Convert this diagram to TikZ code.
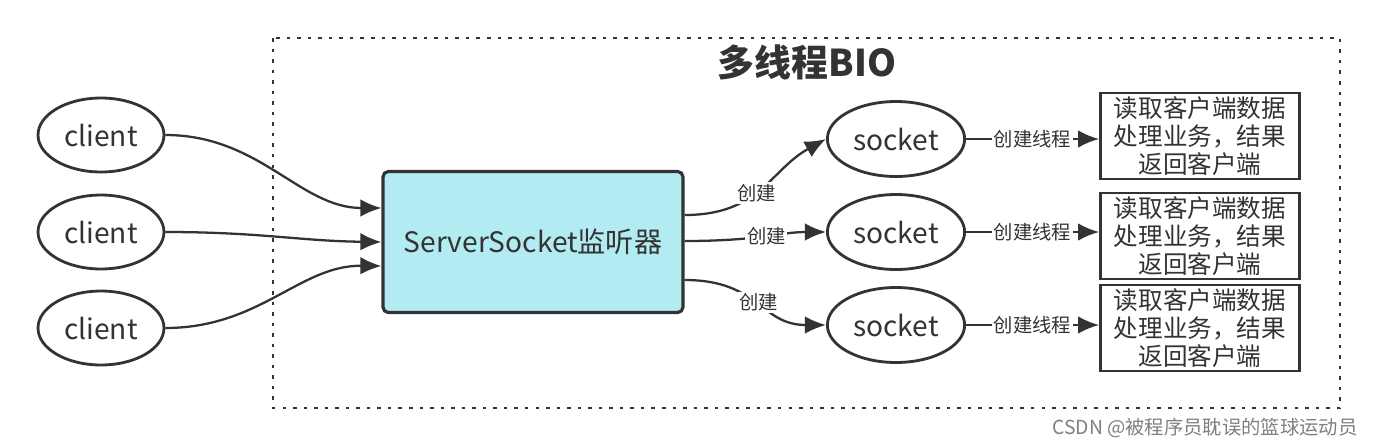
\documentclass[tikz,border=0pt]{standalone}
\usepackage{fontspec}
\setmainfont{Noto Sans CJK SC}
\usetikzlibrary{arrows.meta,shapes.geometric}
\definecolor{ink}{RGB}{51,51,51}
\definecolor{srvfill}{RGB}{178,235,242}
\begin{document}
\begin{tikzpicture}[x=0.02cm,y=-0.02cm,
  res/.style={draw=ink,line width=1.6pt,minimum width=3.98cm,minimum height=1.72cm,align=center,font=\fontsize{14}{16}\selectfont,text=ink,inner sep=1pt},
  arr/.style={draw=ink,line width=1.3pt,-{Latex[length=12pt,width=10pt]}},
  lbl/.style={font=\fontsize{11}{13}\selectfont,text=ink,fill=white,inner sep=1pt}]
\useasboundingbox[fill=white] (0,0) rectangle (1378,447);
\draw[ink,line width=1.6pt,dash pattern=on 2pt off 4pt] (273,38) rectangle (1340,408);
\node[font=\bfseries\fontsize{21}{24}\selectfont,text=ink] (title) at (807,62) {多线程BIO};
\foreach \i/\y in {1/135,2/232,3/328}
  \node[draw=ink,line width=1.6pt,shape=ellipse,minimum width=2.52cm,minimum height=1.48cm,font=\fontsize{16}{18}\selectfont,text=ink] (c\i) at (101,\y) {client};
\node[draw=ink,line width=1.8pt,fill=srvfill,rounded corners=3pt,minimum width=6cm,minimum height=2.82cm,font=\fontsize{16}{18}\selectfont,text=ink] (srv) at (533,242) {ServerSocket监听器};
\foreach \i/\y in {1/139,2/232,3/325}
  \node[draw=ink,line width=1.6pt,shape=ellipse,minimum width=2.6cm,minimum height=1.5cm,font=\fontsize{16}{18}\selectfont,text=ink] (s\i) at (896,\y) {socket};
\foreach \i/\y in {1/136,2/236,3/328}
  \node[res] (r\i) at (1200,\y) {读取客户端数据\\处理业务，结果\\返回客户端};
% client -> server
\draw[arr] (c1.east) .. controls (260,135) and (300,208) .. ([yshift=34*0.02cm]srv.west);
\draw[arr] (c2.east) .. controls (260,232) and (300,241) .. (srv.west);
\draw[arr] (c3.east) .. controls (260,328) and (300,265) .. ([yshift=-24*0.02cm]srv.west);
% server -> sockets
\draw[arr] ([yshift=27*0.02cm]srv.east) .. controls (760,215) and (770,170) .. (s1.west) node[lbl,pos=0.45] {创建};
\draw[arr] ([yshift=1*0.02cm]srv.east) .. controls (760,241) and (780,232) .. (s2.west) node[lbl,pos=0.5] {创建};
\draw[arr] ([yshift=-38*0.02cm]srv.east) .. controls (760,280) and (760,325) .. (s3.west) node[lbl,pos=0.5] {创建};
% sockets -> results
\foreach \i in {1,2,3}
  \draw[arr] (s\i.east) -- (s\i.east -| r\i.west) node[lbl,midway] {创建线程};
\node[font=\fontsize{11}{13}\selectfont,text=gray] (wm) at (1205,428) {CSDN @被程序员耽误的篮球运动员};
\end{tikzpicture}
\end{document}
